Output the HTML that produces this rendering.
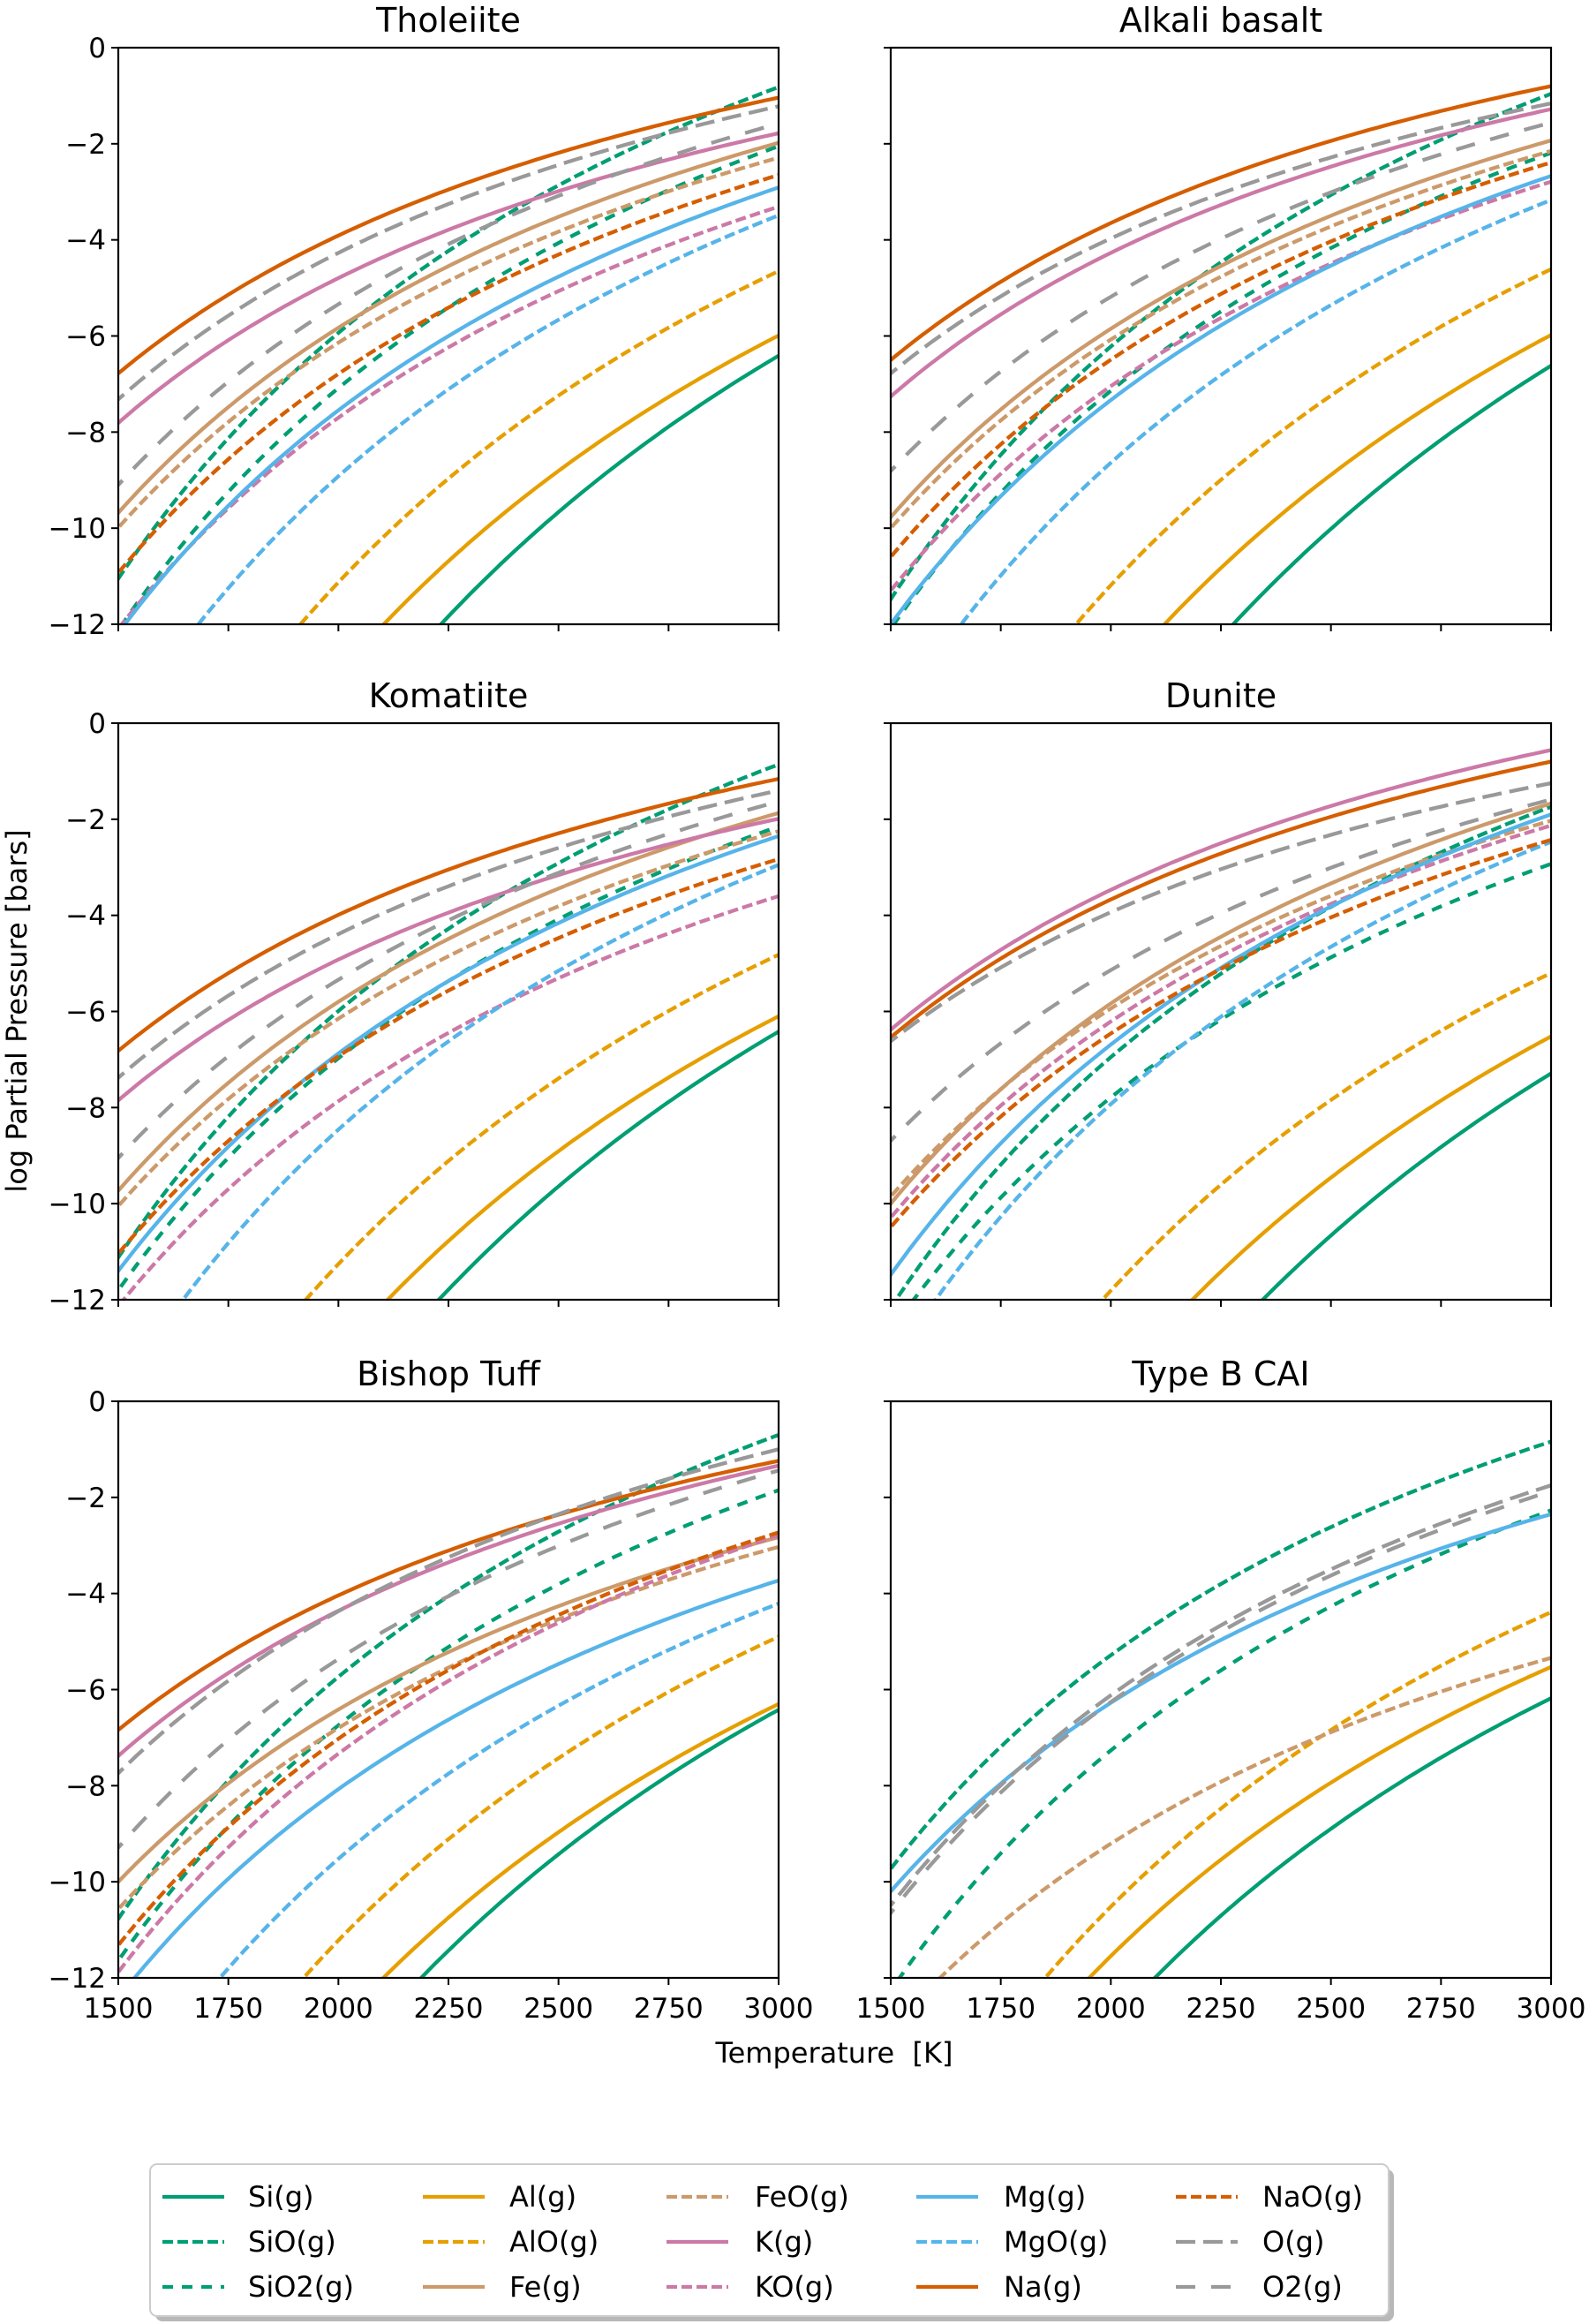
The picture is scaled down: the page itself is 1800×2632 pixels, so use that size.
<!DOCTYPE html>
<html><head><meta charset="utf-8"><style>
html,body{margin:0;padding:0;background:#fff;}
svg{display:block;font-family:"DejaVu Sans","Liberation Sans",sans-serif;}
</style></head><body>
<svg id="s" width="1800" height="2632" viewBox="0 0 1800 2632" xmlns="http://www.w3.org/2000/svg"></svg>
<script>
const C={Si:"#009E73",Al:"#E69F00",Fe:"#CC9A6A",Mg:"#56B4E9",Na:"#D55E00",K:"#CC79A7",O:"#999999"};
const ST={
 "Si":[C.Si,null],"SiO":[C.Si,"12,5"],"SiO2":[C.Si,"12,10"],
 "Al":[C.Al,null],"AlO":[C.Al,"12,5"],"Fe":[C.Fe,null],
 "FeO":[C.Fe,"12,5"],"K":[C.K,null],"KO":[C.K,"12,5"],
 "Mg":[C.Mg,null],"MgO":[C.Mg,"12,5"],"Na":[C.Na,null],
 "NaO":[C.Na,"12,5"],"O":[C.O,"22,9"],"O2":[C.O,"22,18"]};
const P=[
 {t:"Tholeiite",x0:134,y0:54,d:{Na:[1500,-6.78,-1.04],O:[1500,-7.32,-1.22],K:[1500,-7.81,-1.78],O2:[1500,-9.1,-1.58],Fe:[1500,-9.68,-1.98],FeO:[1500,-9.99,-2.29],SiO:[1500,-11.05,-0.82],NaO:[1500,-10.93,-2.65],Mg:[1515,-12,-2.91],KO:[1508,-12,-3.31],SiO2:[1509,-12,-2.05],MgO:[1682,-12,-3.49],AlO:[1914,-12,-4.65],Al:[2103,-12,-5.99],Si:[2233,-12,-6.41]}},
 {t:"Alkali basalt",x0:1009,y0:54,d:{Na:[1500,-6.5,-0.8],O:[1500,-6.78,-1.16],K:[1500,-7.26,-1.28],O2:[1500,-8.81,-1.56],Fe:[1500,-9.77,-1.93],FeO:[1500,-10.0,-2.15],NaO:[1500,-10.6,-2.39],SiO:[1500,-11.48,-0.96],KO:[1500,-11.3,-2.79],SiO2:[1507,-12,-2.19],Mg:[1500,-12,-2.67],MgO:[1660,-12,-3.17],AlO:[1921,-12,-4.61],Al:[2122,-12,-5.98],Si:[2278,-12,-6.62]}},
 {t:"Komatiite",x0:134,y0:819,d:{Na:[1500,-6.82,-1.16],O:[1500,-7.38,-1.4],K:[1500,-7.85,-1.99],O2:[1500,-9.05,-1.63],Fe:[1500,-9.73,-1.87],FeO:[1500,-10.05,-2.25],SiO:[1500,-11.12,-0.86],NaO:[1500,-11.04,-2.83],Mg:[1500,-11.4,-2.35],SiO2:[1500,-11.8,-2.15],KO:[1512,-12,-3.6],MgO:[1647,-12,-2.95],AlO:[1926,-12,-4.82],Al:[2112,-12,-6.1],Si:[2228,-12,-6.42]}},
 {t:"Dunite",x0:1009,y0:819,d:{K:[1500,-6.38,-0.56],Na:[1500,-6.54,-0.8],O:[1500,-6.62,-1.25],O2:[1500,-8.69,-1.59],Fe:[1500,-10.0,-1.67],FeO:[1500,-9.85,-2.03],KO:[1500,-10.29,-2.13],NaO:[1500,-10.49,-2.43],Mg:[1500,-11.48,-1.9],SiO:[1512,-12,-1.74],SiO2:[1552,-12,-2.93],MgO:[1602,-12,-2.47],AlO:[1981,-12,-5.2],Al:[2185,-12,-6.52],Si:[2345,-12,-7.29]}},
 {t:"Bishop Tuff",x0:134,y0:1587,d:{Na:[1500,-6.84,-1.24],K:[1500,-7.38,-1.34],O:[1500,-7.74,-1.0],O2:[1500,-9.29,-1.44],Fe:[1500,-10.0,-2.83],SiO:[1500,-10.77,-0.7],FeO:[1500,-10.57,-3.03],NaO:[1500,-11.32,-2.73],SiO2:[1500,-11.64,-1.85],KO:[1500,-11.88,-2.79],Mg:[1537,-12,-3.73],MgO:[1731,-12,-4.21],AlO:[1921,-12,-4.9],Al:[2102,-12,-6.3],Si:[2188,-12,-6.42]}},
 {t:"Type B CAI",x0:1009,y0:1587,d:{SiO:[1500,-9.73,-0.84],Mg:[1500,-10.2,-2.35],O:[1500,-10.49,-1.75],O2:[1500,-10.65,-1.87],SiO2:[1520,-12,-2.27],FeO:[1612,-12,-5.34],AlO:[1851,-12,-4.39],Al:[1951,-12,-5.53],Si:[2100,-12,-6.18]}}
];
const W=748,H=653;
let o="";
const order=["Si","SiO","SiO2","Al","AlO","Fe","FeO","K","KO","Mg","MgO","Na","NaO","O","O2"];
P.forEach((p,pi)=>{
 const X=T=>p.x0+(T-1500)/1500*W, Y=v=>p.y0-v/12*H;
 o+=`<defs><clipPath id="c${pi}"><rect x="${p.x0}" y="${p.y0}" width="${W}" height="${H}"/></clipPath></defs><g clip-path="url(#c${pi})">`;
 order.forEach(k=>{
  const s=p.d[k]; if(!s) return;
  const [T1,y1,y3]=s; const b=(y1-y3)/(1/T1-1/3000), a=y3-b/3000;
  let pts=[];
  for(let T=1480;T<=3000;T+=10){const v=a+b/T; if(v<-12.5) continue; pts.push(X(T).toFixed(1)+","+Y(v).toFixed(1));}
  const st=ST[k];
  o+=`<polyline points="${pts.join(" ")}" fill="none" stroke="${st[0]}" stroke-width="4.3"${st[1]?` stroke-dasharray="${st[1]}"`:""}/>`;
 });
 o+=`</g><rect x="${p.x0}" y="${p.y0}" width="${W}" height="${H}" fill="none" stroke="#000" stroke-width="2.2"/>`;
 o+=`<text x="${p.x0+W/2}" y="${p.y0-18}" font-size="38" text-anchor="middle">${p.t}</text>`;
 for(let i=0;i<=6;i++){const y=p.y0+i*H/6;o+=`<line x1="${p.x0-8}" x2="${p.x0}" y1="${y}" y2="${y}" stroke="#000" stroke-width="2"/>`;
  if(p.x0<500) o+=`<text x="${p.x0-14}" y="${y+11}" font-size="31" text-anchor="end">${i==0?"0":"\u2212"+(2*i)}</text>`;}
 for(let i=0;i<=6;i++){const x=p.x0+i*W/6;o+=`<line x1="${x}" x2="${x}" y1="${p.y0+H}" y2="${p.y0+H+8}" stroke="#000" stroke-width="2"/>`;
  if(pi>=4) o+=`<text x="${x}" y="${p.y0+H+45}" font-size="31" text-anchor="middle">${1500+250*i}</text>`;}
});
o+=`<text x="945" y="2336" font-size="32" text-anchor="middle" xml:space="preserve" style="white-space:pre">Temperature  [K]</text>`;
o+=`<text transform="translate(30,1145) rotate(-90)" font-size="32" text-anchor="middle">log Partial Pressure [bars]</text>`;
o+=`<rect x="176" y="2457" width="1403" height="172" rx="8" fill="#b0b0b0" opacity="0.9"/>`;
o+=`<rect x="170" y="2451" width="1403" height="172" rx="8" fill="#fff" stroke="#ccc" stroke-width="2"/>`;
const hx=[184,479,755,1038,1332], tx=[281,577,855,1137,1430], ry=[2488,2539,2590];
order.forEach((k,i)=>{const c=Math.floor(i/3),r=i%3,st=ST[k];
 o+=`<line x1="${hx[c]}" x2="${hx[c]+70}" y1="${ry[r]}" y2="${ry[r]}" stroke="${st[0]}" stroke-width="4.3"${st[1]?` stroke-dasharray="${st[1]}"`:""}/>`;
 o+=`<text x="${tx[c]}" y="${ry[r]+11}" font-size="32">${k}(g)</text>`;});
document.getElementById("s").innerHTML=o;
</script>
</body></html>
